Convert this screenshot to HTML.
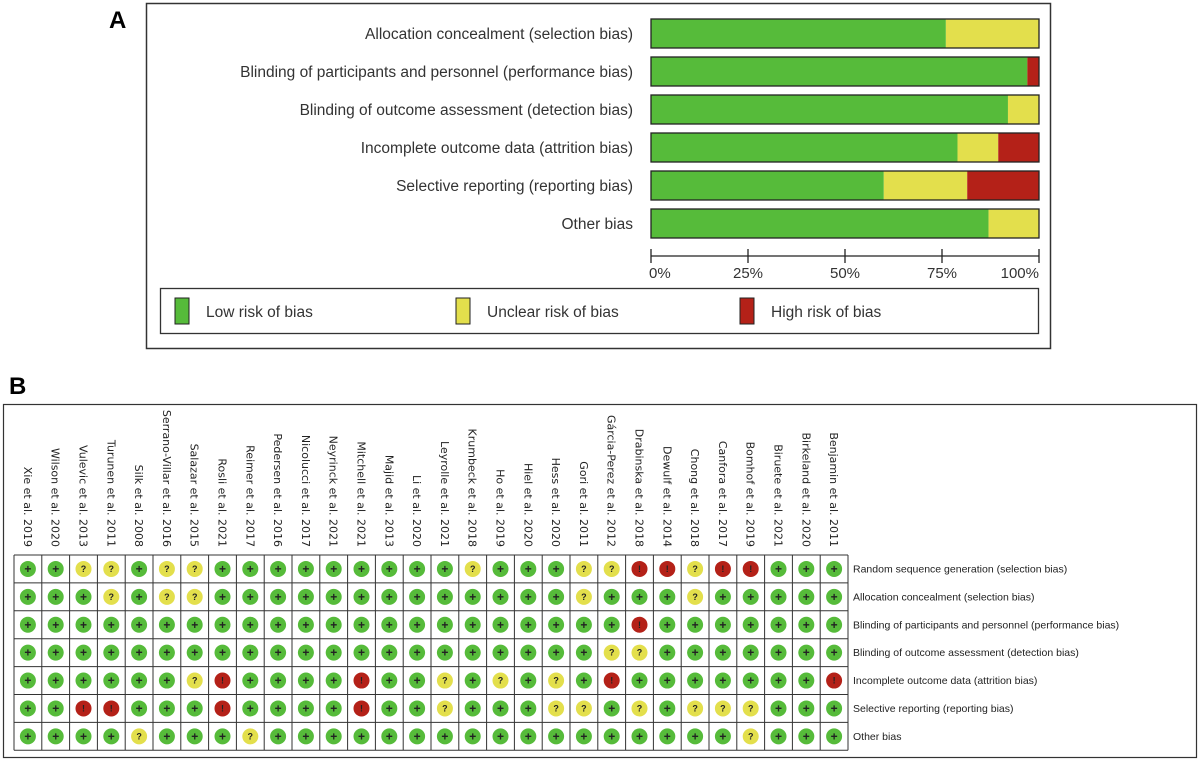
<!DOCTYPE html>
<html><head><meta charset="utf-8"><style>
html,body{margin:0;padding:0;background:#fff;}
svg{display:block;font-family:"Liberation Sans","DejaVu Sans",sans-serif;}
</style></head><body>
<svg id="chart" width="1200" height="763" viewBox="0 0 1200 763">
<text x="109" y="28" font-size="24" font-weight="bold">A</text>
<rect x="146.5" y="3.5" width="904" height="345" fill="#fff" stroke="#333" stroke-width="1.5"/>
<g id="panelA"></g>
<text x="9" y="394" font-size="24" font-weight="bold">B</text>
<rect x="3.5" y="404.5" width="1193" height="353" fill="#fff" stroke="#333" stroke-width="1.2"/>
<g id="panelB"></g>
</svg>
<script>
const domains = ["Allocation concealment (selection bias)","Blinding of participants and personnel (performance bias)","Blinding of outcome assessment (detection bias)","Incomplete outcome data (attrition bias)","Selective reporting (reporting bias)","Other bias"];
const lowPct = [76, 97, 92, 79, 60, 87];
const unclearPct = [24, 0, 8, 10.5, 21.5, 13];
const highPct = [0, 3, 0, 10.5, 18.5, 0];
const axisTicks = [0, 25, 50, 75, 100];
const legendLabels = ["Low risk of bias","Unclear risk of bias","High risk of bias"];

const studies = ["Xie et al. 2019","Wilson et al. 2020","Vulevic et al. 2013","Turunen et al. 2011","Silk et al. 2008","Serrano-Villar et al. 2016","Salazar et al. 2015","Rosli et al. 2021","Reimer et al. 2017","Pedersen et al. 2016","Nicolucci et al. 2017","Neyrinck et al. 2021","Mitchell et al. 2021","Majid et al. 2013","Li et al. 2020","Leyrolle et al. 2021","Krumbeck et al. 2018","Ho et al. 2019","Hiel et al. 2020","Hess et al. 2020","Gori et al. 2011","Gárcia-Perez et al. 2012","Drabinska et al. 2018","Dewulf et al. 2014","Chong et al. 2018","Canfora et al. 2017","Bomhof et al. 2019","Biruete et al. 2021","Birkeland et al. 2020","Benjamin et al. 2011"];
const gridDomains = ["Random sequence generation (selection bias)","Allocation concealment (selection bias)","Blinding of participants and personnel (performance bias)","Blinding of outcome assessment (detection bias)","Incomplete outcome data (attrition bias)","Selective reporting (reporting bias)","Other bias"];
const judgements = [
"GGYYGYYGGGGGGGGGYGGGYYRRYRRGGG",
"GGGYGYYGGGGGGGGGGGGGYGGGYGGGGG",
"GGGGGGGGGGGGGGGGGGGGGGRGGGGGGG",
"GGGGGGGGGGGGGGGGGGGGGYYGGGGGGG",
"GGGGGGYRGGGGRGGYGYGYGRGGGGGGGR",
"GGRRGGGRGGGGRGGYGGGYYGYGYYYGGG",
"GGGGYGGGYGGGGGGGGGGGGGGGGGYGGG"];

const NS="http://www.w3.org/2000/svg";
function mk(parent,tag,attrs,text){const e=document.createElementNS(NS,tag);for(const k in attrs)e.setAttribute(k,attrs[k]);if(text!==undefined)e.textContent=text;parent.appendChild(e);return e;}
const COL={G:"#56bb3a",Y:"#e3df4c",R:"#b42118"};
const colors=[COL.G,COL.Y,COL.R];

// Panel A
const A=document.getElementById('panelA');
const x0=651,x1=1039;
const xs=v=>x0+(x1-x0)*v/100;
const rowY=i=>19+i*38;
const barH=29;
domains.forEach((d,i)=>{
  const y=rowY(i);
  const t=mk(A,'text',{x:633,y:y+barH/2+5.5,'text-anchor':'end','font-size':15.5,fill:'#333'},d);
  
  
  const segs=[lowPct[i],unclearPct[i],highPct[i]];
  let acc=0;
  segs.forEach((v,k)=>{
    if(v<=0)return;
    const r=mk(A,'rect',{x:xs(acc),y:y,width:xs(acc+v)-xs(acc),height:barH,fill:colors[k]});
    
    
    acc+=v;
  });
  const o=mk(A,'rect',{x:x0,y:y,width:x1-x0,height:barH,fill:'none',stroke:'#222','stroke-width':1.3});
  
  
});
const ax=mk(A,'line',{x1:x0,x2:x1,y1:256,y2:256,stroke:'#222','stroke-width':1.3});


axisTicks.forEach(v=>{
  const tk=mk(A,'line',{x1:xs(v),x2:xs(v),y1:249,y2:263,stroke:'#222','stroke-width':1.3});
  
  
  const anchor=v===0?'start':(v===100?'end':'middle');
  const tl=mk(A,'text',{x:xs(v)+(v===0?-2:0),y:278,'text-anchor':anchor,'font-size':15,fill:'#333'},v+'%');
  
  
});
const lb=mk(A,'rect',{x:160.5,y:288.5,width:878,height:45,fill:'#fff',stroke:'#333','stroke-width':1.3});


[175,456,740].forEach((lx,k)=>{
  const s=mk(A,'rect',{x:lx,y:298,width:14,height:26,fill:colors[k],stroke:'#222','stroke-width':1});
  
  
  const t=mk(A,'text',{x:lx+31,y:317,'font-size':15.5,fill:'#333'},legendLabels[k]);
  
  
});

// Panel B
const B=document.getElementById('panelB');
const gx0=14,gy0=555,cw=27.8,ch=27.9;
studies.forEach((s,j)=>{
  const cx=gx0+cw*(j+0.5);
  const t=mk(B,'text',{x:0,y:0,'text-anchor':'end','font-size':11,'font-family':'"DejaVu Sans",sans-serif',fill:'#222',transform:`translate(${cx-4},547) rotate(90)`},s);
  
  
});
gridDomains.forEach((d,i)=>{
  const cy=gy0+ch*(i+0.5);
  const t=mk(B,'text',{x:853,y:cy+3.5,'font-size':10.5,fill:'#222'},d);
  
  
  for(let j=0;j<studies.length;j++){
    const v=judgements[i][j];
    const cx=gx0+cw*(j+0.5);
    const c=mk(B,'circle',{cx:cx,cy:cy,r:8,fill:COL[v]});
    
    
    const sym=v==='G'?'+':(v==='Y'?'?':'!');
    const st=mk(B,'text',{x:cx,y:cy+(v==='G'?4:3),'text-anchor':'middle','font-size':v==='G'?12:9,'font-weight':'bold',fill:'#222'},sym);
    
    
  }
});
for(let j=0;j<=studies.length;j++){
  const l=mk(B,'line',{x1:gx0+cw*j,x2:gx0+cw*j,y1:gy0,y2:gy0+ch*7,stroke:'#333','stroke-width':1});
  
  
}
for(let i=0;i<=7;i++){
  const l=mk(B,'line',{x1:gx0,x2:gx0+cw*30,y1:gy0+ch*i,y2:gy0+ch*i,stroke:'#333','stroke-width':1});
  
  
}
</script>
</body></html>
